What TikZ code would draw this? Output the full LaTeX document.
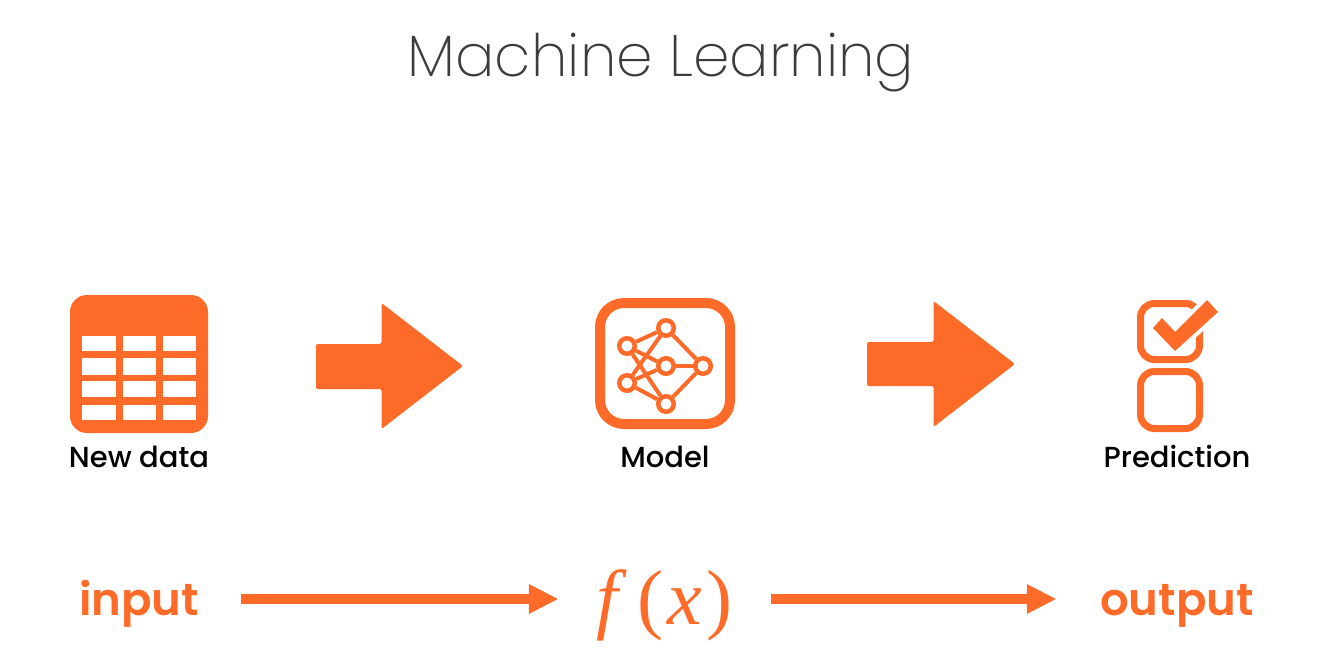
\documentclass[tikz,border=0pt]{standalone}
\usepackage{fontspec}
\setmainfont{Poppins}
\newfontfamily\ftitle{Poppins ExtraLight}
\newfontfamily\flabel{Poppins Medium}
\newfontfamily\fio{Poppins SemiBold}
\newfontfamily\fmath{Liberation Serif}
\definecolor{mlorange}{HTML}{FE6A28}
\definecolor{titlegrey}{HTML}{3C3C3C}
\tikzset{
  boxfill/.style={fill=mlorange,draw=none,rounded corners=2pt},
  cell/.style={fill=white,draw=none},
  ring/.style={circle,draw=mlorange,fill=white,line width=4.5pt,minimum size=15.5pt,inner sep=0pt},
  netline/.style={draw=mlorange,line width=4pt},
  roundbox/.style={draw=mlorange,line width=7pt,rounded corners=14pt},
  caption/.style={font=\flabel\fontsize{29}{34}\selectfont,text=black,anchor=base,inner sep=0pt},
  iolabel/.style={font=\fio\fontsize{45}{54}\selectfont,text=mlorange,inner sep=0pt,text height=40pt,text depth=8pt},
  flow/.style={draw=mlorange,line width=10pt},
  flowhead/.style={fill=mlorange,draw=none},
}
\begin{document}
\begin{tikzpicture}[x=1pt,y=-1pt]
\useasboundingbox (0,0) rectangle (1331,672);
\node[font=\ftitle\fontsize{58.5}{70}\selectfont,text=titlegrey,anchor=base,inner sep=0pt] (title) at (661,76) {Machine Learning};
% table icon
\fill[mlorange,rounded corners=17pt] (70,295) rectangle (208,433);
\foreach \xa/\xb in {82/116,123/156,163/196}
  \foreach \ya/\yb in {336/351,358/375,381/397,405/420}
    \fill[cell] (\xa,\ya) rectangle (\xb,\yb);
\node[caption] (newdata) at (139,467) {New data};
% big arrows
\path[boxfill] (316,344) -- (381.5,344) -- (381.5,303) -- (463,366) -- (381.5,429) -- (381.5,389) -- (316,389) -- cycle;
\path[boxfill] (867,342) -- (933.5,342) -- (933.5,301) -- (1015,364) -- (933.5,427) -- (933.5,386) -- (867,386) -- cycle;
% model icon
\draw[draw=mlorange,line width=10pt,rounded corners=24pt] (600,303) rectangle (730,424);
\node[ring] (i1) at (627,346) {};
\node[ring] (i2) at (627,383) {};
\node[ring] (h1) at (666,328) {};
\node[ring] (h2) at (666,366) {};
\node[ring] (h3) at (666,404) {};
\node[ring] (o1) at (703,366) {};
\foreach \a in {i1,i2} \foreach \b in {h1,h2,h3} \path[netline] (\a) -- (\b);
\foreach \b in {h1,h2,h3} \path[netline] (\b) -- (o1);
\node[caption] (model) at (665,467) {Model};
% prediction icon
\draw[roundbox] (1140.5,303.5) rectangle (1199.5,359.5);
\draw[roundbox] (1140.5,371.5) rectangle (1199.5,428.5);
\path[fill=mlorange,draw=white,line width=8pt,line join=bevel] (1153,328) -- (1162,318) -- (1175,332) -- (1207,300) -- (1218,312) -- (1175,351) -- cycle;
\fill[mlorange] (1153,328) -- (1162,318) -- (1175,332) -- (1207,300) -- (1218,312) -- (1175,351) -- cycle;
\node[caption] (prediction) at (1177,467) {Prediction};
% bottom row
\node[iolabel,minimum width=204pt] (input) at (139,599) {input};
\node[text=mlorange,inner sep=0pt,minimum width=213pt,text height=60pt,text depth=10pt,font=\fmath\fontsize{78}{90}\selectfont] (fx) at (664.5,599) {\textit{f}\kern10pt(\kern4pt\textit{x}\kern4pt)};
\node[iolabel,minimum width=242pt] (output) at (1177,599) {output};
\path[flow] (input.east) -- ([xshift=-28pt]fx.west);
\fill[flowhead] (fx.west) -- ++(-29,-15) -- ++(0,30) -- cycle;
\path[flow] (fx.east) -- ([xshift=-28pt]output.west);
\fill[flowhead] (output.west) -- ++(-29,-15) -- ++(0,30) -- cycle;
\end{tikzpicture}
\end{document}
